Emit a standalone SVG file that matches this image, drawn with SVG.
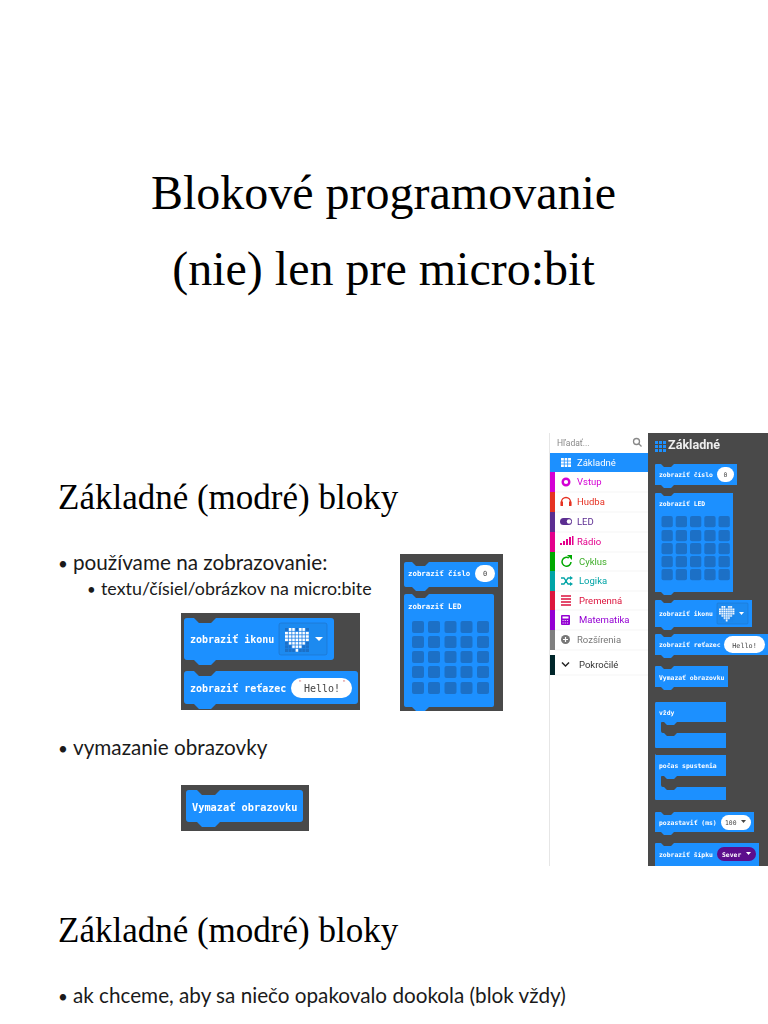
<svg xmlns="http://www.w3.org/2000/svg" width="768" height="1024" viewBox="0 0 768 1024">
<style>
.t{font-family:"Liberation Serif","Times New Roman",serif;fill:#000}
.b{font-family:Lato,"Noto Sans",sans-serif;fill:#1a1a1a}
.m{font-family:"DejaVu Sans Mono",monospace;font-weight:bold;fill:#fff}
.v{font-family:"DejaVu Sans Mono",monospace;fill:#444}
.blk{fill:#1e90ff}
.d{fill:#484848}
.c{fill:#1b70c6}
.cat{font-family:Roboto,"Noto Sans",sans-serif;font-size:9.5px}
.soft{filter:url(#soft)}
</style>
<defs>
<filter id="soft" x="-2%" y="-2%" width="104%" height="104%"><feGaussianBlur stdDeviation="0.35"/></filter>
<g id="grid-s"><rect width="11.3" height="11.3" rx="2" class="c"/></g>
</defs>
<rect width="768" height="1024" fill="#fff"/>

<text class="t" x="383.500" y="209" font-size="48" text-anchor="middle">Blokové programovanie</text>
<text class="t" x="383.500" y="285" font-size="48" text-anchor="middle">(nie) len pre micro:bit</text>

<text class="t" x="58" y="509" font-size="35">Základné (modré) bloky</text>
<text class="b" x="58" y="570" font-size="17">•</text>
<text class="b" x="73" y="570" font-size="20.700">používame na zobrazovanie:</text>
<text class="b" x="87" y="595" font-size="15">•</text>
<text class="b" x="101" y="595" font-size="17.850">textu/čísiel/obrázkov na micro:bite</text>
<text class="b" x="58" y="755" font-size="17">•</text>
<text class="b" x="73" y="755" font-size="20.700">vymazanie obrazovky</text>
<text class="t" x="58" y="942" font-size="35">Základné (modré) bloky</text>
<text class="b" x="58" y="1003" font-size="17">•</text>
<text class="b" x="73" y="1003" font-size="20.700">ak chceme, aby sa niečo opakovalo dookola (blok vždy)</text>

<g id="pic-ikona" class="soft">
<rect x="181" y="613" width="179" height="97" class="d"/>
<path class="blk" d="M187 618h7l5 5h12l5-5h115q3 0 3 3v36q0 3-3 3h-115l-5 5h-12l-5-5h-7q-3 0-3-3v-36q0-3 3-3z"/>
<path class="blk" d="M187 671h7l5 5h12l5-5h139q3 0 3 3v27q0 3-3 3h-139l-5 5h-12l-5-5h-7q-3 0-3-3v-27q0-3 3-3z"/>
<text class="m" x="190" y="643" font-size="10">zobraziť ikonu</text>
<rect x="279" y="623" width="48" height="32" rx="2" fill="#1e8af0" stroke="#1b70c6" stroke-width="0.6"/>
<rect x="285" y="628" width="24" height="24" fill="#1b70c6"/>
<path d="M288.400 628h6.800v3.400h3.400v-3.400h6.800v3.400h3.400v10.200h-3.400v3.400h-3.400v3.400h-3.400v3.400h-3.400v-3.400h-3.400v-3.400h-3.400v-3.400h-3.400v-10.200h3.400z" fill="#fff"/>
<path d="M288.400 628v24M291.800 628v24M295.200 628v24M298.600 628v24M302 628v24M305.400 628v24M285 631.400h24M285 634.800h24M285 638.200h24M285 641.600h24M285 645h24M285 648.400h24" stroke="#1e80e6" stroke-width="0.800"/>
<path d="M315 637h8l-4 4z" fill="#fff"/>
<text class="m" x="190" y="692" font-size="10">zobraziť reťazec</text>
<rect x="291" y="678" width="61" height="20" rx="10" fill="#fff"/>
<text class="v" x="322" y="692" font-size="10" text-anchor="middle">Hello!</text>
<text x="298" y="685" font-size="7" fill="#d88" font-family="DejaVu Sans Mono,monospace">"</text>
<text x="342" y="685" font-size="7" fill="#d88" font-family="DejaVu Sans Mono,monospace">"</text>
</g>

<g id="pic-led" class="soft">
<rect x="400" y="554" width="103" height="157" class="d"/>
<path class="blk" d="M406 562h6l4 4h9l4-4h69v25h-69l-4 4h-9l-4-4h-6q-2 0-2-2v-21q0-2 2-2z"/>
<text class="m" x="408" y="576" font-size="7.400">zobraziť číslo</text>
<rect x="475" y="565" width="20" height="17" rx="8.500" fill="#fff"/>
<text class="v" x="485" y="576" font-size="7" text-anchor="middle">0</text>
<path class="blk" d="M406 594h6l4 4h9l4-4h63q2 0 2 2v109q0 2-2 2h-63l-4 4h-9l-4-4h-6q-2 0-2-2v-109q0-2 2-2z"/>
<text class="m" x="408" y="609" font-size="7.400">zobraziť LED</text>
<g class="c">
<rect x="412" y="621" width="12" height="12" rx="2"/><rect x="428" y="621" width="12" height="12" rx="2"/><rect x="444.500" y="621" width="12" height="12" rx="2"/><rect x="460.500" y="621" width="12" height="12" rx="2"/><rect x="477" y="621" width="12" height="12" rx="2"/>
<rect x="412" y="636" width="12" height="12" rx="2"/><rect x="428" y="636" width="12" height="12" rx="2"/><rect x="444.500" y="636" width="12" height="12" rx="2"/><rect x="460.500" y="636" width="12" height="12" rx="2"/><rect x="477" y="636" width="12" height="12" rx="2"/>
<rect x="412" y="651" width="12" height="12" rx="2"/><rect x="428" y="651" width="12" height="12" rx="2"/><rect x="444.500" y="651" width="12" height="12" rx="2"/><rect x="460.500" y="651" width="12" height="12" rx="2"/><rect x="477" y="651" width="12" height="12" rx="2"/>
<rect x="412" y="666" width="12" height="12" rx="2"/><rect x="428" y="666" width="12" height="12" rx="2"/><rect x="444.500" y="666" width="12" height="12" rx="2"/><rect x="460.500" y="666" width="12" height="12" rx="2"/><rect x="477" y="666" width="12" height="12" rx="2"/>
<rect x="412" y="682" width="12" height="12" rx="2"/><rect x="428" y="682" width="12" height="12" rx="2"/><rect x="444.500" y="682" width="12" height="12" rx="2"/><rect x="460.500" y="682" width="12" height="12" rx="2"/><rect x="477" y="682" width="12" height="12" rx="2"/>
</g>
</g>

<g id="pic-vymazat" class="soft">
<rect x="181" y="785" width="128" height="46" class="d"/>
<path class="blk" d="M189 790h8l5 5h13l5-5h80q3 0 3 3v26q0 3-3 3h-80l-5 5h-13l-5-5h-8q-3 0-3-3v-26q0-3 3-3z"/>
<text class="m" x="192" y="811" font-size="10.300">Vymazať obrazovku</text>
</g>

<g id="toolbox" class="soft">
<rect x="549" y="433" width="1" height="433" fill="#e6e6e6"/>
<text x="557" y="446" font-size="8.500" fill="#888" font-family="Roboto,sans-serif">Hľadať...</text>
<circle cx="636.500" cy="441.500" r="3" fill="none" stroke="#888" stroke-width="1.300"/><path d="M638.500 443.500l3 3" stroke="#888" stroke-width="1.300"/>
<rect x="550" y="453" width="98" height="19" fill="#1e90ff"/>
<rect x="561" y="458" width="10" height="9" fill="#fff"/>
<path d="M564.300 458v9M567.600 458v9M561 461h10M561 464h10" stroke="#1e90ff" stroke-width="0.800"/>
<text class="cat" x="577" y="466" fill="#fff">Základné</text>
<g>
<rect x="550" y="472" width="5" height="20" fill="#d400d4"/>
<rect x="550" y="492" width="5" height="20" fill="#e63022"/>
<rect x="550" y="512" width="5" height="20" fill="#5c2d91"/>
<rect x="550" y="532" width="5" height="20" fill="#e3008c"/>
<rect x="550" y="552" width="5" height="19" fill="#00a800"/>
<rect x="550" y="571" width="5" height="20" fill="#00a4a6"/>
<rect x="550" y="591" width="5" height="19" fill="#dc143c"/>
<rect x="550" y="610" width="5" height="20" fill="#9400d3"/>
<rect x="550" y="630" width="5" height="20" fill="#808080"/>
<rect x="550" y="655" width="5" height="20" fill="#00272b"/>
</g>
<g stroke="#eee" stroke-width="0.600">
<path d="M555 492h93M555 512h93M555 532h93M555 552h93M555 571h93M555 591h93M555 610h93M555 630h93M555 650h93M555 675h93"/>
</g>
<circle cx="566" cy="482" r="3.300" fill="none" stroke="#d400d4" stroke-width="2.400"/>
<text class="cat" x="577" y="485" fill="#d400d4">Vstup</text>
<path d="M561.500 505v-3a4.500 4.500 0 0 1 9 0v3" fill="none" stroke="#e63022" stroke-width="1.300"/><rect x="560.500" y="501.500" width="2.500" height="4.500" fill="#e63022"/><rect x="569" y="501.500" width="2.500" height="4.500" fill="#e63022"/>
<text class="cat" x="577" y="505" fill="#e63022">Hudba</text>
<rect x="560" y="518" width="12" height="7" rx="3.500" fill="#5c2d91"/><circle cx="569" cy="521.500" r="2.200" fill="#fff"/>
<text class="cat" x="577" y="525" fill="#5c2d91">LED</text>
<path d="M560 543h2v2h-2zM563 541h2v4h-2zM566 539h2v6h-2zM569 537h2v8h-2zM572 536h1.500v9h-1.500z" fill="#e3008c"/>
<text class="cat" x="577" y="545" fill="#e3008c">Rádio</text>
<path d="M569 558a4.500 4.500 0 1 0 2 4" fill="none" stroke="#00a800" stroke-width="1.500"/><path d="M567 555l5 0l0 5z" fill="#00a800"/>
<text class="cat" x="579" y="565" fill="#3fae2a">Cyklus</text>
<path d="M561 578h3l4 6h3M561 584h3l4-6h3" fill="none" stroke="#00a4a6" stroke-width="1.300"/><path d="M570 576l3 2-3 2zM570 582l3 2-3 2z" fill="#00a4a6"/>
<text class="cat" x="579" y="584" fill="#00a4a6">Logika</text>
<path d="M561 596h10M561 599h10M561 602h10M561 605h10" stroke="#dc143c" stroke-width="1.500"/>
<text class="cat" x="579" y="604" fill="#dc143c">Premenná</text>
<rect x="561" y="615" width="9" height="10" rx="1" fill="#9400d3"/><rect x="562.500" y="616.500" width="6" height="2" fill="#fff"/><path d="M562.500 620.500h6M562.500 623h6" stroke="#fff" stroke-width="0.800" stroke-dasharray="1.200 1"/>
<text class="cat" x="579" y="623" fill="#9400d3">Matematika</text>
<circle cx="565.500" cy="639.500" r="4.500" fill="#777"/><path d="M565.500 637v5M563 639.500h5" stroke="#fff" stroke-width="1.200"/>
<text class="cat" x="577" y="643" fill="#777">Rozšírenia</text>
<path d="M562 662.500l3.500 3.500 3.500-3.500" fill="none" stroke="#222" stroke-width="1.400"/>
<text class="cat" x="579" y="668" fill="#333">Pokročilé</text>
</g>

<g id="blocks-panel" class="soft">
<rect x="648" y="433" width="120" height="433" class="d"/>
<rect x="655" y="441" width="3" height="3" fill="#1e90ff"/><rect x="659" y="441" width="3" height="3" fill="#1e90ff"/><rect x="663" y="441" width="3" height="3" fill="#1e90ff"/>
<rect x="655" y="445" width="3" height="3" fill="#1e90ff"/><rect x="659" y="445" width="3" height="3" fill="#1e90ff"/><rect x="663" y="445" width="3" height="3" fill="#1e90ff"/>
<rect x="655" y="449" width="3" height="3" fill="#1e90ff"/><rect x="659" y="449" width="3" height="3" fill="#1e90ff"/><rect x="663" y="449" width="3" height="3" fill="#1e90ff"/>
<text x="668" y="449" font-size="12.600" font-weight="bold" fill="#eee" font-family="Roboto,sans-serif">Základné</text>

<path class="blk" d="M656 464h5l3 3h7l3-3h63v21h-63l-3 3h-7l-3-3h-6v-20q0-1 1-1z"/>
<text class="m" x="659" y="477" font-size="6.400">zobraziť číslo</text>
<rect x="717" y="467" width="17" height="15" rx="7.500" fill="#fff"/>
<text class="v" x="725.500" y="477" font-size="6.400" text-anchor="middle">0</text>

<path class="blk" d="M656 493h5l3 3h7l3-3h59v99h-59l-3 3h-7l-3-3h-6v-98q0-1 1-1z"/>
<text class="m" x="659" y="506" font-size="6.400">zobraziť LED</text>
<g class="c">
<use href="#grid-s" x="661.500" y="516"/><use href="#grid-s" x="675.700" y="516"/><use href="#grid-s" x="690" y="516"/><use href="#grid-s" x="704.300" y="516"/><use href="#grid-s" x="718.500" y="516"/>
<use href="#grid-s" x="661.500" y="530"/><use href="#grid-s" x="675.700" y="530"/><use href="#grid-s" x="690" y="530"/><use href="#grid-s" x="704.300" y="530"/><use href="#grid-s" x="718.500" y="530"/>
<use href="#grid-s" x="661.500" y="543"/><use href="#grid-s" x="675.700" y="543"/><use href="#grid-s" x="690" y="543"/><use href="#grid-s" x="704.300" y="543"/><use href="#grid-s" x="718.500" y="543"/>
<use href="#grid-s" x="661.500" y="556"/><use href="#grid-s" x="675.700" y="556"/><use href="#grid-s" x="690" y="556"/><use href="#grid-s" x="704.300" y="556"/><use href="#grid-s" x="718.500" y="556"/>
<use href="#grid-s" x="661.500" y="569"/><use href="#grid-s" x="675.700" y="569"/><use href="#grid-s" x="690" y="569"/><use href="#grid-s" x="704.300" y="569"/><use href="#grid-s" x="718.500" y="569"/>
</g>

<path class="blk" d="M656 600h5l3 3h7l3-3h78v27h-78l-3 3h-7l-3-3h-6v-26q0-1 1-1z"/>
<text class="m" x="659" y="616" font-size="6.400">zobraziť ikonu</text>
<rect x="717" y="603" width="31" height="21" rx="1" fill="#1e8af0" stroke="#1b70c6" stroke-width="0.500"/>
<path d="M721.200 606h4.400v2.200h2.200v-2.200h4.400v2.200h2.200v6.600h-2.200v2.200h-2.200v2.200h-2.200v2.200h-2.200v-2.200h-2.200v-2.200h-2.200v-2.200h-2.200v-6.600h2.200z" fill="#fff"/>
<path d="M721.200 606v16M723.400 606v16M725.600 606v16M727.800 606v16M730 606v16M732.200 606v16M719 608.200h16M719 610.400h16M719 612.600h16M719 614.800h16M719 617h16M719 619.200h16" stroke="#1e80e6" stroke-width="0.500"/>
<path d="M739 612h5l-2.500 3z" fill="#fff"/>

<path class="blk" d="M656 634h5l3 3h7l3-3h94v21h-94l-3 3h-7l-3-3h-6v-20q0-1 1-1z"/>
<text class="m" x="659" y="647" font-size="6.400">zobraziť reťazec</text>
<rect x="724" y="636" width="41" height="17" rx="8.500" fill="#fff"/>
<text class="v" x="744.500" y="648" font-size="6.800" text-anchor="middle">Hello!</text>

<path class="blk" d="M656 666h5l3 3h7l3-3h54v21h-54l-3 3h-7l-3-3h-6v-20q0-1 1-1z"/>
<text class="m" x="659" y="680" font-size="6.400">Vymazať obrazovku</text>

<path class="blk" d="M656 702h70v20h-49l-3 3h-7l-3-3h-2q-1 0-1 1v8q0 2 2 2h1l3 3h7l3-3h49v15h-70q-1 0-1-1v-43q0-2 1-2z"/>
<text class="m" x="659" y="715" font-size="6.400">vždy</text>

<path class="blk" d="M656 755h70v21h-49l-3 3h-7l-3-3h-2q-1 0-1 1v8q0 2 2 2h1l3 3h7l3-3h49v13h-70q-1 0-1-1v-43q0-2 1-2z"/>
<text class="m" x="659" y="768" font-size="6.400">počas spustenia</text>

<path class="blk" d="M656 812h5l3 3h7l3-3h80v20h-80l-3 3h-7l-3-3h-6v-19q0-1 1-1z"/>
<text class="m" x="659" y="825" font-size="6.400">pozastaviť (ms)</text>
<rect x="721" y="815" width="30" height="15" rx="7.500" fill="#fff"/>
<text class="v" x="725" y="825" font-size="6.400">100</text>
<path d="M741 820h5l-2.500 3z" fill="#444"/>

<path class="blk" d="M656 843h5l3 3h7l3-3h85v23h-104v-22q0-1 1-1z"/>
<text class="m" x="659" y="857" font-size="6.400">zobraziť šípku</text>
<rect x="717" y="847" width="39" height="14" rx="7" fill="#5c0a8c"/>
<text class="m" x="722" y="857" font-size="6.400">Sever</text>
<path d="M746 852h5l-2.500 3z" fill="#fff"/>
</g>
</svg>
